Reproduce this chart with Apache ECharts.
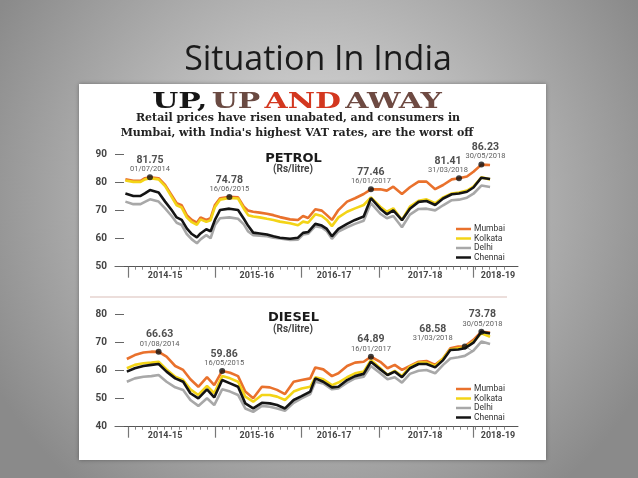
<!DOCTYPE html>
<html>
<head>
<meta charset="utf-8">
<script src="https://cdn.jsdelivr.net/npm/echarts@6/dist/echarts.min.js"></script>
<style>
  html, body { margin: 0; padding: 0; }
  #main { width: 638px; height: 478px; }
</style>
</head>
<body>
<div id="main"></div>
<script>
// x values are months counted from April 2014 (start of FY 2014-15)
const fyTicks = [0, 12, 24, 34.7, 47.8];
const fyLabelPos = [5.1, 17.8, 28.5, 41.1, 51.2];
const fyLabels = ['2014-15', '2015-16', '2016-17', '2017-18', '2018-19'];
const cities = ['Mumbai', 'Kolkata', 'Delhi', 'Chennai'];

// PETROL (Rs/litre)
const petrolX = [-0.4, 0.7, 1.7, 2.3, 3.0, 4.2, 5.1, 6.0, 6.7, 7.4, 8.1, 8.8, 9.5, 10.0, 10.8, 11.4, 12.0, 12.7, 14.0, 15.2,
  16.0, 16.6, 17.3, 18.2, 19.2, 20.1, 21.0, 22.4, 23.5, 24.2, 24.9, 25.9, 26.8, 27.5, 28.2, 29.1, 30.3, 31.4, 32.6, 33.6,
  34.9, 35.8, 36.7, 37.9, 39.0, 40.2, 41.3, 42.5, 43.6, 44.8, 45.8, 46.9, 47.8, 48.9, 50.1];
const petrolMumbai = [81.0, 80.5, 80.5, 81.4, 81.75, 81.4, 79.0, 75.4, 72.5, 71.8, 68.3, 66.6, 65.6, 67.5, 66.6, 67.2, 71.9, 74.3, 74.78, 74.6,
  71.3, 69.9, 69.5, 69.2, 68.8, 68.3, 67.6, 66.8, 66.6, 68.0, 67.3, 70.4, 69.9, 68.3, 66.6, 70.1, 73.1, 74.3, 75.8, 77.46,
  77.5, 77.0, 78.4, 75.8, 78.2, 80.2, 80.2, 77.5, 79.0, 81.0, 81.41, 82.0, 83.7, 86.23, 86.1];
const petrolKolkata = [80.6, 80.1, 80.1, 81.0, 81.4, 81.0, 78.6, 74.8, 71.8, 71.0, 67.5, 65.8, 64.9, 66.8, 65.9, 66.5, 71.2, 73.8, 74.4, 74.2,
  70.6, 68.3, 67.8, 67.5, 67.0, 66.6, 66.0, 65.4, 64.7, 66.0, 65.6, 68.6, 68.0, 66.6, 64.4, 67.5, 69.5, 70.7, 71.9, 74.6,
  71.3, 69.5, 70.7, 66.6, 71.3, 73.4, 73.9, 72.5, 74.6, 76.0, 76.3, 77.0, 78.4, 81.7, 81.0];
const petrolDelhi = [73.1, 72.2, 72.2, 73.0, 73.9, 73.1, 70.7, 68.0, 65.6, 64.8, 61.6, 59.7, 58.3, 59.7, 61.2, 60.1, 64.8, 67.2, 67.5, 67.0,
  65.0, 62.5, 61.2, 61.0, 60.8, 60.3, 60.0, 59.5, 59.6, 61.4, 61.7, 64.4, 63.9, 62.6, 59.9, 62.5, 64.0, 65.2, 66.3, 72.6,
  68.8, 67.2, 68.0, 64.0, 68.5, 70.5, 70.6, 70.0, 71.8, 73.6, 73.8, 74.5, 75.9, 78.8, 78.3];
const petrolChennai = [76.0, 75.1, 75.1, 76.0, 77.2, 76.3, 73.1, 70.1, 67.5, 66.6, 63.6, 61.6, 60.4, 61.8, 63.3, 62.6, 66.6, 70.1, 70.6, 70.1,
  67.0, 64.5, 62.1, 61.8, 61.4, 60.8, 60.3, 59.9, 60.3, 62.0, 62.3, 65.2, 64.6, 63.4, 60.8, 63.4, 65.2, 66.6, 67.8, 74.3,
  70.6, 68.6, 70.0, 66.5, 70.6, 73.0, 73.3, 71.9, 74.2, 75.7, 76.0, 76.6, 78.1, 81.6, 81.1];
const petrolNotes = [[3.0, 81.75, '01/07/2014'], [14.0, 74.78, '16/06/2015'], [33.6, 77.46, '16/01/2017'],
  [45.8, 81.41, '31/03/2018'], [48.9, 86.23, '30/05/2018']];

// DIESEL (Rs/litre)
const dieselX = [-0.2, 0.9, 2.1, 3.2, 4.2, 5.3, 6.5, 7.6, 8.6, 9.7, 10.9, 11.9, 13.0, 14.1, 15.2, 16.2, 17.3, 18.5, 19.6, 20.6,
  21.7, 22.9, 24.0, 25.2, 25.9, 27.0, 28.2, 29.1, 30.3, 31.4, 32.6, 33.6, 34.9, 35.9, 36.9, 37.9, 39.0, 40.2, 41.3, 42.5,
  43.6, 44.6, 45.7, 46.6, 47.8, 48.9, 50.1];
const dieselMumbai = [64.1, 65.5, 66.4, 66.7, 66.63, 64.9, 61.6, 60.2, 56.9, 54.2, 57.6, 54.8, 59.86, 59.2, 58.0, 52.5, 50.1, 54.2, 54.0, 53.1,
  51.6, 56.0, 56.6, 57.2, 61.1, 60.4, 58.0, 59.0, 61.6, 62.8, 63.1, 64.89, 63.1, 60.8, 62.0, 60.2, 61.6, 63.1, 63.4, 62.0,
  64.3, 67.9, 68.5, 68.58, 70.9, 73.78, 73.5];
const dieselKolkata = [60.8, 62.0, 62.6, 62.8, 63.1, 60.4, 57.8, 56.6, 53.3, 51.3, 54.5, 51.9, 58.0, 57.2, 56.0, 50.7, 48.9, 51.3, 51.3, 50.7,
  49.5, 52.5, 53.6, 54.2, 57.6, 56.9, 54.8, 55.7, 57.6, 59.0, 59.6, 63.7, 60.8, 58.4, 59.9, 58.0, 61.4, 62.8, 62.8, 61.6,
  64.3, 67.5, 67.9, 68.2, 70.3, 73.2, 72.0];
const dieselDelhi = [56.0, 57.2, 57.8, 58.0, 58.4, 56.0, 54.0, 53.1, 49.5, 47.4, 50.1, 47.7, 53.3, 52.5, 51.3, 46.5, 45.3, 47.4, 47.1, 46.5,
  45.7, 48.5, 50.1, 51.6, 56.0, 55.4, 53.3, 53.6, 55.7, 57.2, 57.8, 61.6, 59.0, 56.9, 57.6, 55.7, 58.8, 59.9, 60.2, 59.0,
  62.0, 64.3, 64.7, 65.2, 67.1, 70.3, 69.4];
const dieselChennai = [59.6, 60.8, 61.6, 62.0, 62.3, 59.6, 57.2, 56.0, 51.9, 50.1, 53.3, 50.4, 56.6, 55.4, 54.2, 48.3, 46.5, 48.5, 48.3, 47.7,
  46.5, 49.5, 50.9, 52.5, 57.2, 56.0, 54.0, 54.2, 56.6, 58.0, 58.8, 63.1, 60.4, 58.4, 59.6, 57.6, 60.8, 62.3, 62.3, 61.1,
  63.7, 67.3, 67.5, 67.9, 69.9, 73.8, 73.2];
const dieselNotes = [[4.2, 66.63, '01/08/2014'], [13.0, 59.86, '16/05/2015'], [33.6, 64.89, '16/01/2017'],
  [46.6, 68.58, '31/03/2018'], [48.9, 73.78, '30/05/2018']];

const cityColors = { Mumbai: '#e9712c', Kolkata: '#f3d417', Delhi: '#a8a8a8', Chennai: '#141414' };
const xMin = -1.84, xMax = 53.97;
const monthTicks = [];
for (let m = 1; m <= 52; m++) {
  if (fyTicks.indexOf(m) < 0) monthTicks.push(m);
}

const chart = echarts.init(document.getElementById('main'));

function xAxes(gridIndex) {
  return [{
    type: 'value', gridIndex: gridIndex, min: xMin, max: xMax, position: 'bottom',
    axisLine: { show: true, onZero: false, lineStyle: { color: '#555', width: 1 } },
    axisTick: { show: true, customValues: fyTicks, length: 11, lineStyle: { color: '#777', width: 1.2 } },
    axisLabel: {
      show: true, customValues: fyLabelPos, margin: 5,
      formatter: v => fyLabels[fyLabelPos.indexOf(v)],
      fontSize: 9, fontWeight: 'bold', color: '#444', fontFamily: 'Roboto'
    },
    splitLine: { show: false }
  }, {
    type: 'value', gridIndex: gridIndex, min: xMin, max: xMax, position: 'bottom',
    axisLine: { show: false, onZero: false },
    axisTick: { show: true, customValues: monthTicks, length: 3, lineStyle: { color: '#888' } },
    axisLabel: { show: false },
    splitLine: { show: false }
  }];
}

function yAxis(gridIndex, min, max) {
  return {
    type: 'value', gridIndex: gridIndex, min: min, max: max, interval: 10,
    axisLine: { show: false, onZero: false },
    axisTick: { show: true, inside: true, length: 9, lineStyle: { color: '#666' } },
    axisLabel: { margin: 8, fontSize: 10, fontWeight: 'bold', color: '#444', fontFamily: 'Roboto' },
    splitLine: { show: false }
  };
}

function citySeries(gridIndex, xs, byCity) {
  // drawing order: Delhi, Mumbai, Kolkata, Chennai on top
  return ['Delhi', 'Mumbai', 'Kolkata', 'Chennai'].map(name => ({
    name: name,
    type: 'line',
    xAxisIndex: gridIndex * 2,
    yAxisIndex: gridIndex,
    data: xs.map((x, i) => [x, byCity[name][i]]),
    showSymbol: false,
    color: cityColors[name],
    lineStyle: { width: 2.6, color: cityColors[name] },
    silent: true
  }));
}

// shifts: horizontal label offset per note; leader: draw a guide line back to the dot
function noteSeries(gridIndex, notes, shifts, leader) {
  return {
    type: 'scatter',
    xAxisIndex: gridIndex * 2,
    yAxisIndex: gridIndex,
    symbolSize: 6,
    itemStyle: { color: '#111' },
    z: 5,
    data: notes.map((n, i) => ({
      value: [n[0], n[1]],
      date: n[2],
      label: { offset: [shifts[i], 0] },
      labelLine: { show: !!leader[i], lineStyle: { color: '#999', width: 0.8 } }
    })),
    label: {
      show: true, position: 'top', distance: 1,
      formatter: p => '{v|' + p.value[1].toFixed(2) + '}\n{d|' + p.data.date + '}',
      rich: {
        v: { fontSize: 10.5, fontWeight: 'bold', color: '#222', fontFamily: 'Roboto', lineHeight: 10, align: 'center' },
        d: { fontSize: 7.5, color: '#333', fontFamily: 'Roboto', lineHeight: 8, align: 'center' }
      }
    }
  };
}

function legend(top) {
  return {
    data: cities, orient: 'vertical', left: 456, top: top,
    icon: 'rect', itemWidth: 15, itemHeight: 2.5, itemGap: 0.5,
    padding: 0, selectedMode: false,
    textStyle: { fontSize: 8.5, lineHeight: 9, color: '#333', fontFamily: 'Roboto', padding: [0, 0, 0, -2] }
  };
}

const headFont = 'bold 23px "DejaVu Serif"';

const option = {
  backgroundColor: {
    type: 'radial', x: 0.5, y: 0.42, r: 0.78,
    colorStops: [{ offset: 0, color: '#e4e4e4' }, { offset: 1, color: '#8a8a8a' }]
  },
  animation: false,
  graphic: [
    { type: 'rect', shape: { x: 79, y: 84, width: 467, height: 376 }, z: -10,
      style: { fill: '#fff', shadowBlur: 4, shadowColor: 'rgba(0,0,0,0.35)' } },
    { type: 'line', shape: { x1: 90, y1: 297, x2: 507, y2: 297 }, z: -5,
      style: { stroke: '#e6d3cf', lineWidth: 1.5 } },
    { type: 'text', x: 318, y: 60, z: 10,
      style: { text: 'Situation In India', font: '34px "Open Sans"', fill: '#1b1b1b', textAlign: 'center', textVerticalAlign: 'middle' } },
    { type: 'text', x: 297, y: 102, z: 10, scaleX: 1.3,
      style: {
        text: '{a|UP,} {b|UP} {c|AND} {d|AWAY}', textAlign: 'center', textVerticalAlign: 'middle',
        rich: {
          a: { fill: '#161616', font: headFont },
          b: { fill: '#6a4a42', font: headFont },
          c: { fill: '#d3371f', font: headFont },
          d: { fill: '#6e4a42', font: headFont }
        }
      } },
    { type: 'text', x: 298, y: 118.5, z: 10,
      style: { text: 'Retail prices have risen unabated, and consumers in', font: 'bold 11px "DejaVu Serif"', fill: '#222', textAlign: 'center', textVerticalAlign: 'middle' } },
    { type: 'text', x: 297, y: 133.5, z: 10,
      style: { text: "Mumbai, with India's highest VAT rates, are the worst off", font: 'bold 11px "DejaVu Serif"', fill: '#222', textAlign: 'center', textVerticalAlign: 'middle' } },
    { type: 'text', x: 293.5, y: 158.5, z: 10,
      style: { text: 'PETROL', font: 'bold 13px "DejaVu Sans"', fill: '#1a1a1a', textAlign: 'center', textVerticalAlign: 'middle' } },
    { type: 'text', x: 293, y: 169.5, z: 10,
      style: { text: '(Rs/litre)', font: 'bold 10px Roboto', fill: '#444', textAlign: 'center', textVerticalAlign: 'middle' } },
    { type: 'text', x: 293.5, y: 317.5, z: 10,
      style: { text: 'DIESEL', font: 'bold 13px "DejaVu Sans"', fill: '#1a1a1a', textAlign: 'center', textVerticalAlign: 'middle' } },
    { type: 'text', x: 293, y: 329, z: 10,
      style: { text: '(Rs/litre)', font: 'bold 10px Roboto', fill: '#444', textAlign: 'center', textVerticalAlign: 'middle' } }
  ],
  legend: [legend(224.5), legend(384.5)],
  grid: [
    { left: 115, right: 120, top: 154, height: 112.7 },
    { left: 115, right: 120, top: 314.3, height: 112.4 }
  ],
  xAxis: xAxes(0).concat(xAxes(1)),
  yAxis: [yAxis(0, 50, 90), yAxis(1, 40, 80)],
  series: [].concat(
    citySeries(0, petrolX, { Mumbai: petrolMumbai, Kolkata: petrolKolkata, Delhi: petrolDelhi, Chennai: petrolChennai }),
    citySeries(1, dieselX, { Mumbai: dieselMumbai, Kolkata: dieselKolkata, Delhi: dieselDelhi, Chennai: dieselChennai }),
    [noteSeries(0, petrolNotes, [0, 0, 0, -11, 4], [0, 0, 0, 0, 0]),
     noteSeries(1, dieselNotes, [1, 2, 0, -32, 1], [0, 0, 0, 1, 0])]
  )
};

chart.setOption(option);
</script>
</body>
</html>
